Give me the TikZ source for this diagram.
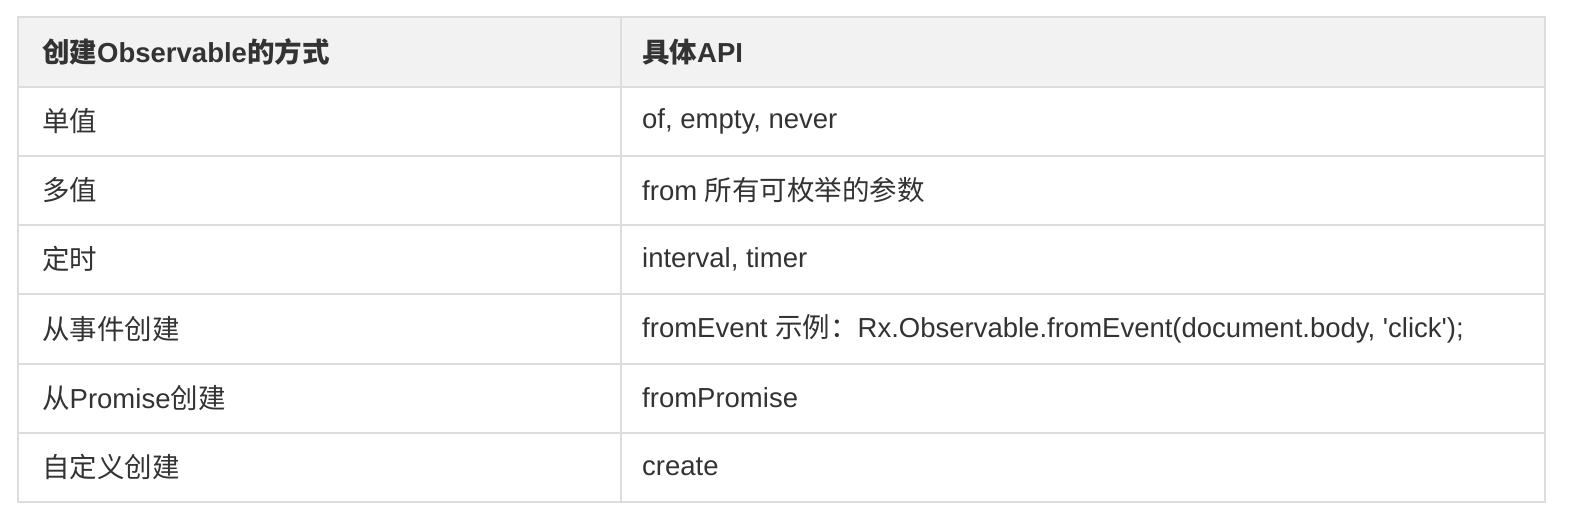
\documentclass[tikz,border=0pt]{standalone}
\usepackage{fontspec}
\setmainfont{Liberation Sans}
\newfontfamily\cjk{Noto Sans CJK SC}
\definecolor{bd}{HTML}{DDDDDD}
\definecolor{hd}{HTML}{F2F2F2}
\definecolor{tx}{HTML}{333333}
\begin{document}
\begin{tikzpicture}[x=1pt,y=-1pt,
  cell/.style={anchor=west,text=tx,font=\fontsize{27.5}{32}\selectfont,inner sep=0pt}]
\useasboundingbox (0,0) rectangle (1584,522);
\fill[hd] (18,17) rectangle (1545,87);
\foreach \y in {87,156,225,294,364,433} \draw[bd,line width=1.5pt] (18,\y) -- (1545,\y);
\draw[bd,line width=1.5pt] (621,17) -- (621,502);
\draw[bd,line width=1.5pt] (18,17) rectangle (1545,502);
\node[cell,font=\fontsize{27.5}{32}\selectfont\bfseries] (h1) at (42,52) {{\cjk\bfseries 创建}Observable{\cjk\bfseries 的方式}};
\node[cell,font=\fontsize{27.5}{32}\selectfont\bfseries] (h2) at (642,52) {{\cjk\bfseries 具体}API};
\node[cell] (a1) at (42,121) {\cjk 单值};
\node[cell] (b1) at (642,121) {of, empty, never};
\node[cell] (a2) at (42,190) {\cjk 多值};
\node[cell] (b2) at (642,190) {from {\cjk 所有可枚举的参数}};
\node[cell] (a3) at (42,259) {\cjk 定时};
\node[cell] (b3) at (642,259) {interval, timer};
\node[cell] (a4) at (42,329) {\cjk 从事件创建};
\node[cell] (b4) at (642,329) {fromEvent {\cjk 示例：}Rx.Observable.fromEvent(document.body, \textquotesingle click\textquotesingle);};
\node[cell] (a5) at (42,398) {{\cjk 从}Promise{\cjk 创建}};
\node[cell] (b5) at (642,398) {fromPromise};
\node[cell] (a6) at (42,467) {\cjk 自定义创建};
\node[cell] (b6) at (642,467) {create};
\end{tikzpicture}
\end{document}
